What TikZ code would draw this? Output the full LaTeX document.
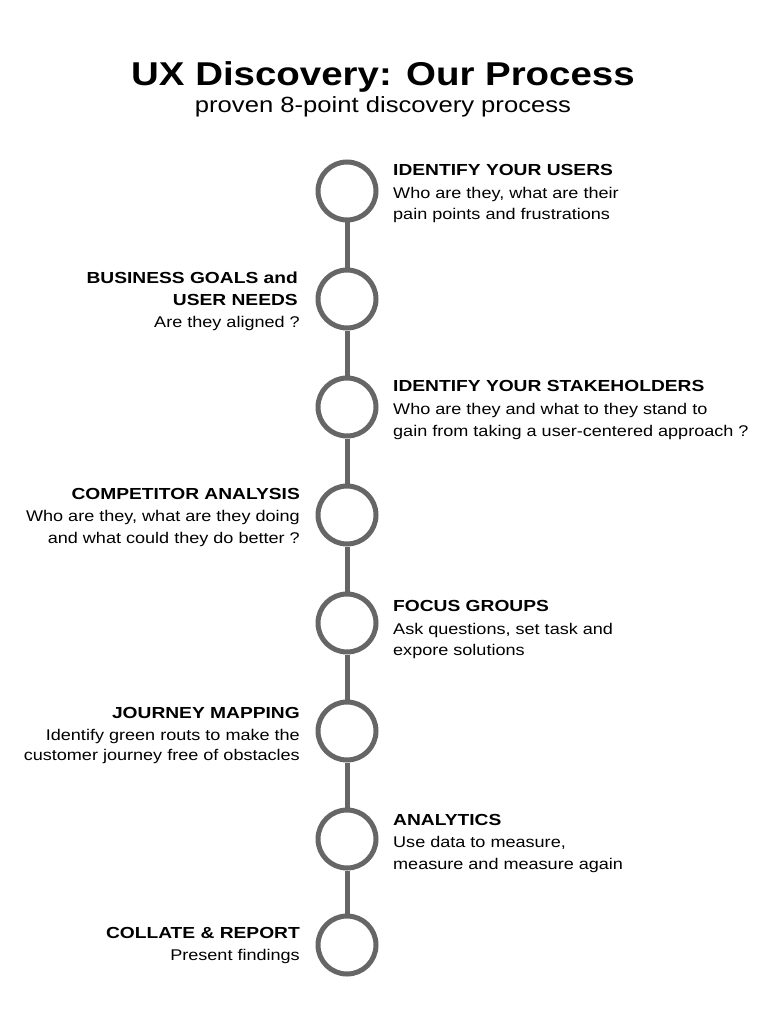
\documentclass[tikz,border=0pt]{standalone}
\usepackage{fontspec}
\usepackage{graphicx}
\setmainfont{Liberation Sans}
\newcommand\hx[1]{\scalebox{1.2}[1]{#1}}
\newcommand\bx[1]{\scalebox{1.165}[1]{#1}}
\begin{document}
\begin{tikzpicture}[x=1pt,y=-1pt,
  stepcirc/.style={circle,draw=black!60,line width=5pt,minimum size=58pt,inner sep=0},
  link/.style={draw=black!60,line width=5pt},
  hd/.style={inner sep=0,font=\fontsize{16}{18}\selectfont\bfseries},
  bd/.style={inner sep=0,font=\fontsize{15.5}{18}\selectfont},
  R/.style={anchor=base west},
  L/.style={anchor=base east}]
\useasboundingbox (0,0) rectangle (768,1024);
\node[inner sep=0,anchor=base,font=\fontsize{33}{36}\selectfont\bfseries] (title) at (383,86) {\bx{UX Discovery: Our Process}};
\node[inner sep=0,anchor=base,font=\fontsize{22}{24}\selectfont] (sub) at (383,113) {\bx{proven 8-point discovery process}};
\foreach \i/\y in {1/191,2/299,3/407,4/515,5/623,6/731,7/839,8/945}
  \node[stepcirc] (c\i) at (347,\y) {};
\foreach \a/\b in {1/2,2/3,3/4,4/5,5/6,6/7,7/8}
  \draw[link] (c\a) -- (c\b);
% right items
\node[hd,R] (h1) at (393,176) {\hx{IDENTIFY YOUR USERS}};
\node[bd,R] (b1a) at (393,199) {\bx{Who are they, what are their}};
\node[bd,R] (b1b) at (393,220) {\bx{pain points and frustrations}};
\node[hd,R] (h3) at (393,391) {\hx{IDENTIFY YOUR STAKEHOLDERS}};
\node[bd,R] (b3a) at (393,414) {\bx{Who are they and what to they stand to}};
\node[bd,R] (b3b) at (393,436) {\bx{gain from taking a user-centered approach ?}};
\node[hd,R] (h5) at (393,611) {\hx{FOCUS GROUPS}};
\node[bd,R] (b5a) at (393,634) {\bx{Ask questions, set task and}};
\node[bd,R] (b5b) at (393,655) {\bx{expore solutions}};
\node[hd,R] (h7) at (393,825) {\hx{ANALYTICS}};
\node[bd,R] (b7a) at (393,847) {\bx{Use data to measure,}};
\node[bd,R] (b7b) at (393,869) {\bx{measure and measure again}};
% left items
\node[hd,L] (h2a) at (298,283) {\hx{BUSINESS GOALS and}};
\node[hd,L] (h2b) at (298,305) {\hx{USER NEEDS}};
\node[bd,L] (b2) at (300,327) {\bx{Are they aligned ?}};
\node[hd,L] (h4) at (300,499) {\hx{COMPETITOR ANALYSIS}};
\node[bd,L] (b4a) at (300,521) {\bx{Who are they, what are they doing}};
\node[bd,L] (b4b) at (300,543) {\bx{and what could they do better ?}};
\node[hd,L] (h6) at (300,718) {\hx{JOURNEY MAPPING}};
\node[bd,L] (b6a) at (300,740) {\bx{Identify green routs to make the}};
\node[bd,L] (b6b) at (300,760) {\bx{customer journey free of obstacles}};
\node[hd,L] (h8) at (300,938) {\hx{COLLATE \& REPORT}};
\node[bd,L] (b8) at (300,960) {\bx{Present findings}};
\end{tikzpicture}
\end{document}
